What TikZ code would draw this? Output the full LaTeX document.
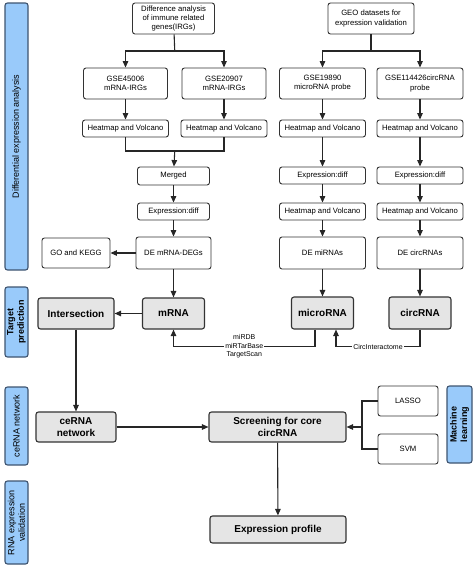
\documentclass[tikz,border=0pt]{standalone}
\usepackage{fontspec}
\setmainfont{Liberation Sans}
\usetikzlibrary{arrows.meta}

\definecolor{barblue}{RGB}{153,202,250}
\definecolor{bardark}{RGB}{62,84,112}
\definecolor{boxgray}{RGB}{229,229,229}

\begin{document}
\begin{tikzpicture}[x=1pt, y=-1pt,
    box/.style={draw=black!80, line width=0.9pt, rounded corners=2.5pt, align=center, inner sep=0pt, font=\fontsize{7.7}{9.2}\selectfont},
    keybox/.style={box, fill=boxgray, line width=1.1pt, font=\fontsize{10}{11.5}\selectfont\bfseries},
    sidebar/.style={draw=bardark, fill=barblue, line width=1.1pt, rounded corners=2.5pt, inner sep=0pt, align=center, rotate=90, font=\fontsize{9}{10.5}\selectfont},
    arr/.style={-{Triangle[length=6.5pt,width=5.5pt]}, line width=1.1pt, draw=black!85},
    link/.style={line width=1.1pt, draw=black!85},
    dblabel/.style={fill=white, inner sep=1pt, align=center, font=\fontsize{7}{8.5}\selectfont}]
    \useasboundingbox (0,0) rectangle (474,579);

    % Side bars
    \node[sidebar, minimum width=267, minimum height=23] (barDiff) at (16.5,136.5) {Differential expression analysis};
    \node[sidebar, minimum width=70, minimum height=23, font=\fontsize{9}{10.5}\selectfont\bfseries] (barTarget) at (16.5,322) {Target\\prediction};
    \node[sidebar, minimum width=78, minimum height=23] (barCe) at (16.5,426) {ceRNA network};
    \node[sidebar, minimum width=83, minimum height=23] (barRna) at (16.5,522.5) {RNA expression\\validation};
    \node[sidebar, minimum width=77, minimum height=25, font=\fontsize{9}{10.5}\selectfont\bfseries] (barMl) at (459.5,424.5) {Machine\\learning};

    % Sources
    \node[box, minimum width=82, minimum height=31] (irg) at (173.5,18.5) {Difference analysis\\of immune related\\genes(IRGs)};
    \node[box, minimum width=86, minimum height=31] (geo) at (371,18.5) {GEO datasets for\\expression validation};

    % Datasets
    \node[box, minimum width=84, minimum height=31] (gseA) at (125.5,83.5) {GSE45006\\mRNA-IRGs};
    \node[box, minimum width=84, minimum height=31] (gseB) at (224,83.5) {GSE20907\\mRNA-IRGs};
    \node[box, minimum width=86, minimum height=31] (gseC) at (322.5,83.5) {GSE19890\\microRNA probe};
    \node[box, minimum width=86, minimum height=31] (gseD) at (420,83.5) {GSE114426circRNA\\probe};

    % Heatmap and Volcano, first row
    \foreach \n/\x in {heatA/125.5, heatB/224, heatC/322.5, heatD/420}
        \node[box, minimum width=86, minimum height=17] (\n) at (\x,128.5) {Heatmap and Volcano};

    % mRNA branch
    \node[box, minimum width=72, minimum height=18] (merged) at (173.5,176) {Merged};
    \node[box, minimum width=72, minimum height=17] (diffA) at (173.5,211.5) {Expression:diff};
    \node[box, minimum width=75, minimum height=32] (degA) at (173.5,253) {DE mRNA-DEGs};
    \node[box, minimum width=68, minimum height=30] (goKegg) at (76,253) {GO and KEGG};

    % microRNA and circRNA branches
    \foreach \n/\x in {diffC/322.5, diffD/420}
        \node[box, minimum width=86, minimum height=17] (\n) at (\x,175.5) {Expression:diff};
    \foreach \n/\x in {heatE/322.5, heatF/420}
        \node[box, minimum width=86, minimum height=17] (\n) at (\x,211.5) {Heatmap and Volcano};
    \node[box, minimum width=86, minimum height=32] (deMi) at (322.5,253) {DE miRNAs};
    \node[box, minimum width=86, minimum height=32] (deCirc) at (420,253) {DE circRNAs};

    % Target prediction
    \node[keybox, minimum width=76, minimum height=31] (inter) at (76,313.5) {Intersection};
    \node[keybox, minimum width=62, minimum height=31] (mrna) at (173.5,313.5) {mRNA};
    \node[keybox, minimum width=62, minimum height=32] (mirna) at (322.5,313) {microRNA};
    \node[keybox, minimum width=62, minimum height=32] (circ) at (420,313) {circRNA};

    % ceRNA network and screening
    \node[keybox, minimum width=80, minimum height=30] (cerna) at (76,427) {ceRNA\\network};
    \node[keybox, minimum width=137, minimum height=30] (screen) at (277.5,427) {Screening for core\\circRNA};
    \node[box, minimum width=60, minimum height=30] (lasso) at (408,401) {LASSO};
    \node[box, minimum width=60, minimum height=30] (svm) at (408,449) {SVM};
    \node[keybox, minimum width=136, minimum height=27] (prof) at (278,529.5) {Expression profile};

    % Split points
    \coordinate (splitA) at (174.75,51);
    \coordinate (splitB) at (371,51);
    \coordinate (joinA) at (174.75,151);
    \coordinate (mlJoin) at (362,427);

    % Connectors
    \draw[link] (irg) -- (splitA);
    \draw[arr] (splitA) -| (gseA);
    \draw[arr] (splitA) -| (gseB);
    \draw[link] (geo) -- (splitB);
    \draw[arr] (splitB) -| (gseC);
    \draw[arr] (splitB) -| (gseD);
    \foreach \a/\b in {gseA/heatA, gseB/heatB, gseC/heatC, gseD/heatD, heatC/diffC, heatD/diffD,
                       diffC/heatE, diffD/heatF, heatE/deMi, heatF/deCirc, deMi/mirna, deCirc/circ,
                       merged/diffA, diffA/degA, degA/mrna, degA/goKegg, mrna/inter, inter/cerna,
                       cerna/screen, mlJoin/screen, screen/prof}
        \draw[arr] (\a) -- (\b);
    \draw[link] (heatA) |- (joinA) -| (heatB);
    \draw[arr] (joinA) -- (merged);
    \draw[link] (lasso) -| (mlJoin) |- (svm);

    % Database links
    \draw[arr] ([xshift=-7.5pt]mirna.south) -- ++(0,17) -| (mrna.south)
        node[dblabel, pos=0.25] {miRDB\\miRTarBase\\TargetScan};
    \draw[arr] (circ.south) -- ++(0,17) -| ([xshift=13.5pt]mirna.south)
        node[dblabel, pos=0.25] {CircInteractome};

\end{tikzpicture}
\end{document}
